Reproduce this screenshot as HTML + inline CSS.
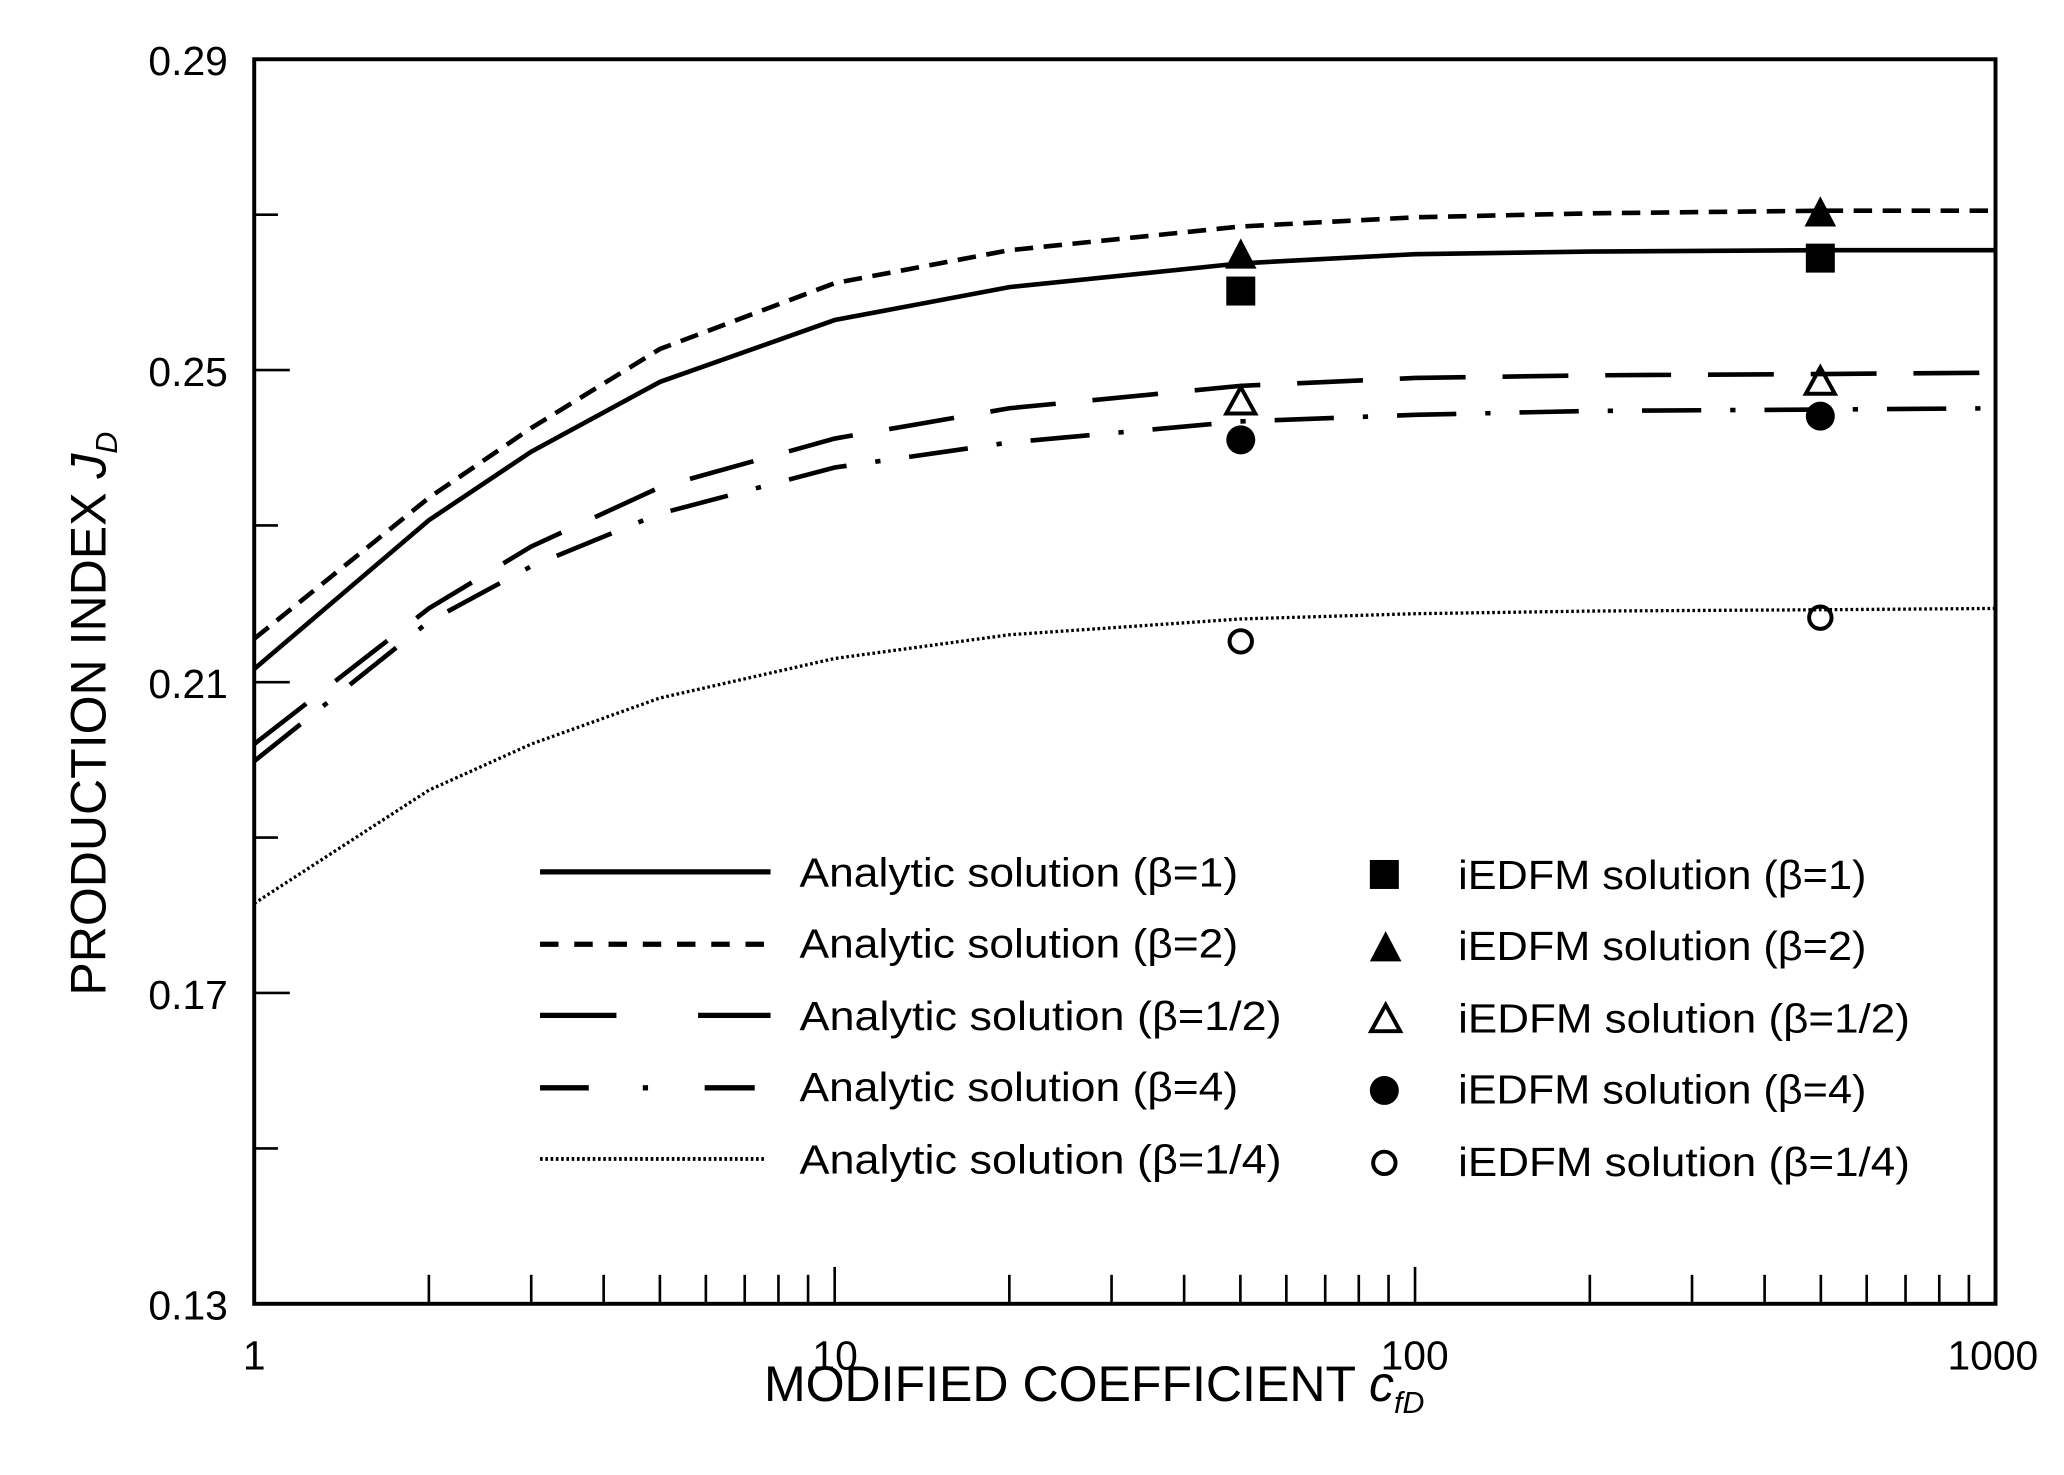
<!DOCTYPE html>
<html><head><meta charset="utf-8"><style>
html,body{margin:0;padding:0;background:#fff;}
svg{display:block;}
text{font-family:"Liberation Sans",sans-serif;fill:#000;}
</style></head><body>
<svg width="2064" height="1475" viewBox="0 0 1567 1120" preserveAspectRatio="none" xmlns="http://www.w3.org/2000/svg">
<rect x="0" y="0" width="1567" height="1120" fill="#fff"/>
<g stroke="#000" stroke-width="2">
<line x1="193" y1="163" x2="211" y2="163"/>
<line x1="193" y1="281" x2="220" y2="281"/>
<line x1="193" y1="399" x2="211" y2="399"/>
<line x1="193" y1="518" x2="220" y2="518"/>
<line x1="193" y1="636" x2="211" y2="636"/>
<line x1="193" y1="754" x2="220" y2="754"/>
<line x1="193" y1="872" x2="211" y2="872"/>
</g>
<g stroke="#000" stroke-width="2">
<line x1="325.6" y1="990" x2="325.6" y2="968"/>
<line x1="403.3" y1="990" x2="403.3" y2="968"/>
<line x1="458.3" y1="990" x2="458.3" y2="968"/>
<line x1="501" y1="990" x2="501" y2="968"/>
<line x1="535.9" y1="990" x2="535.9" y2="968"/>
<line x1="565.4" y1="990" x2="565.4" y2="968"/>
<line x1="591" y1="990" x2="591" y2="968"/>
<line x1="613.5" y1="990" x2="613.5" y2="968"/>
<line x1="633.7" y1="990" x2="633.7" y2="962"/>
<line x1="766.3" y1="990" x2="766.3" y2="968"/>
<line x1="843.9" y1="990" x2="843.9" y2="968"/>
<line x1="899" y1="990" x2="899" y2="968"/>
<line x1="941.7" y1="990" x2="941.7" y2="968"/>
<line x1="976.6" y1="990" x2="976.6" y2="968"/>
<line x1="1006.1" y1="990" x2="1006.1" y2="968"/>
<line x1="1031.6" y1="990" x2="1031.6" y2="968"/>
<line x1="1054.2" y1="990" x2="1054.2" y2="968"/>
<line x1="1074.3" y1="990" x2="1074.3" y2="962"/>
<line x1="1207" y1="990" x2="1207" y2="968"/>
<line x1="1284.6" y1="990" x2="1284.6" y2="968"/>
<line x1="1339.7" y1="990" x2="1339.7" y2="968"/>
<line x1="1382.4" y1="990" x2="1382.4" y2="968"/>
<line x1="1417.2" y1="990" x2="1417.2" y2="968"/>
<line x1="1446.7" y1="990" x2="1446.7" y2="968"/>
<line x1="1472.3" y1="990" x2="1472.3" y2="968"/>
<line x1="1494.8" y1="990" x2="1494.8" y2="968"/>
</g>
<rect x="193" y="45" width="1322" height="945" fill="none" stroke="#000" stroke-width="3"/>
<g font-size="31" text-anchor="end">
<text x="173" y="57">0.29</text>
<text x="173" y="293">0.25</text>
<text x="173" y="530">0.21</text>
<text x="173" y="766">0.17</text>
<text x="173" y="1002">0.13</text>
</g>
<g font-size="31" text-anchor="middle">
<text x="193" y="1040">1</text>
<text x="634" y="1040">10</text>
<text x="1074" y="1040">100</text>
<text x="1513" y="1040">1000</text>
</g>
<text x="580" y="1064" font-size="38">MODIFIED COEFFICIENT <tspan font-style="italic">c</tspan><tspan font-style="italic" font-size="23" dy="9">fD</tspan></text>
<text transform="translate(80,756) rotate(-90)" font-size="38">PRODUCTION INDEX <tspan font-style="italic">J</tspan><tspan font-style="italic" font-size="23" dy="9">D</tspan></text>
<g fill="none" stroke="#000" stroke-width="3.5">
<polyline points="193,508 325.6,395 403.3,343 501,290 633.7,243 766.3,218 941.7,200 1074.3,193 1207,191 1382.4,190 1515,190"/>
<polyline stroke-dasharray="14,8" points="193,485 325.6,378 403.3,325 501,265 633.7,215 766.3,190 941.7,172 1074.3,165 1207,162 1382.4,160 1515,160"/>
<polyline stroke-dasharray="50,28" points="193,565 325.6,462 403.3,415 501,370 633.7,333 766.3,310 941.7,293 1074.3,287 1207,285 1382.4,284 1515,283"/>
<polyline stroke-dasharray="45,22,4,22" points="193,578 325.6,472 403.3,430 501,390 633.7,355 766.3,336 941.7,320 1074.3,315 1207,312 1382.4,311 1515,310"/>
<polyline stroke-width="2.5" stroke-dasharray="2,2" points="193,686 325.6,600 403.3,565 501,530 633.7,500 766.3,482 941.7,470 1074.3,466 1207,464 1382.4,463 1515,462"/>
</g>
<rect x="931" y="210" width="22" height="22" fill="#000"/>
<rect x="1371" y="185" width="22" height="22" fill="#000"/>
<polygon points="942,181 954,204 930,204" fill="#000"/>
<polygon points="1382,149 1394,172 1370,172" fill="#000"/>
<polygon points="942,294 953,314 931,314" fill="none" stroke="#000" stroke-width="3"/>
<polygon points="1382,279 1393,299 1371,299" fill="none" stroke="#000" stroke-width="3"/>
<circle cx="942" cy="334" r="11" fill="#000"/>
<circle cx="1382" cy="316" r="11" fill="#000"/>
<circle cx="942" cy="487" r="8.5" fill="none" stroke="#000" stroke-width="3"/>
<circle cx="1382" cy="469" r="8.5" fill="none" stroke="#000" stroke-width="3"/>
<g fill="none" stroke="#000" stroke-width="4">
<line x1="410" y1="662" x2="585" y2="662"/>
<line x1="410" y1="717" x2="585" y2="717" stroke-dasharray="14,12"/>
<line x1="410" y1="771" x2="468" y2="771"/>
<line x1="530" y1="771" x2="585" y2="771"/>
<line x1="410" y1="826" x2="447" y2="826"/>
<line x1="488" y1="826" x2="492" y2="826"/>
<line x1="535" y1="826" x2="573" y2="826"/>
<line x1="410" y1="880" x2="580" y2="880" stroke-width="3" stroke-dasharray="2,2"/>
</g>
<g font-size="31">
<text x="607" y="673" textLength="333" lengthAdjust="spacingAndGlyphs">Analytic solution (β=1)</text>
<text x="607" y="727" textLength="333" lengthAdjust="spacingAndGlyphs">Analytic solution (β=2)</text>
<text x="607" y="782" textLength="366" lengthAdjust="spacingAndGlyphs">Analytic solution (β=1/2)</text>
<text x="607" y="836" textLength="333" lengthAdjust="spacingAndGlyphs">Analytic solution (β=4)</text>
<text x="607" y="891" textLength="366" lengthAdjust="spacingAndGlyphs">Analytic solution (β=1/4)</text>
<text x="1107" y="675" textLength="310" lengthAdjust="spacingAndGlyphs">iEDFM solution (β=1)</text>
<text x="1107" y="729" textLength="310" lengthAdjust="spacingAndGlyphs">iEDFM solution (β=2)</text>
<text x="1107" y="784" textLength="343" lengthAdjust="spacingAndGlyphs">iEDFM solution (β=1/2)</text>
<text x="1107" y="838" textLength="310" lengthAdjust="spacingAndGlyphs">iEDFM solution (β=4)</text>
<text x="1107" y="893" textLength="343" lengthAdjust="spacingAndGlyphs">iEDFM solution (β=1/4)</text>
</g>
<rect x="1040" y="653" width="22" height="22" fill="#000"/>
<polygon points="1052,707 1064,730 1040,730" fill="#000"/>
<polygon points="1052,763 1063,783 1041,783" fill="none" stroke="#000" stroke-width="3"/>
<circle cx="1051" cy="828" r="11" fill="#000"/>
<circle cx="1051" cy="883" r="8.5" fill="none" stroke="#000" stroke-width="3"/>
</svg>
</body></html>
